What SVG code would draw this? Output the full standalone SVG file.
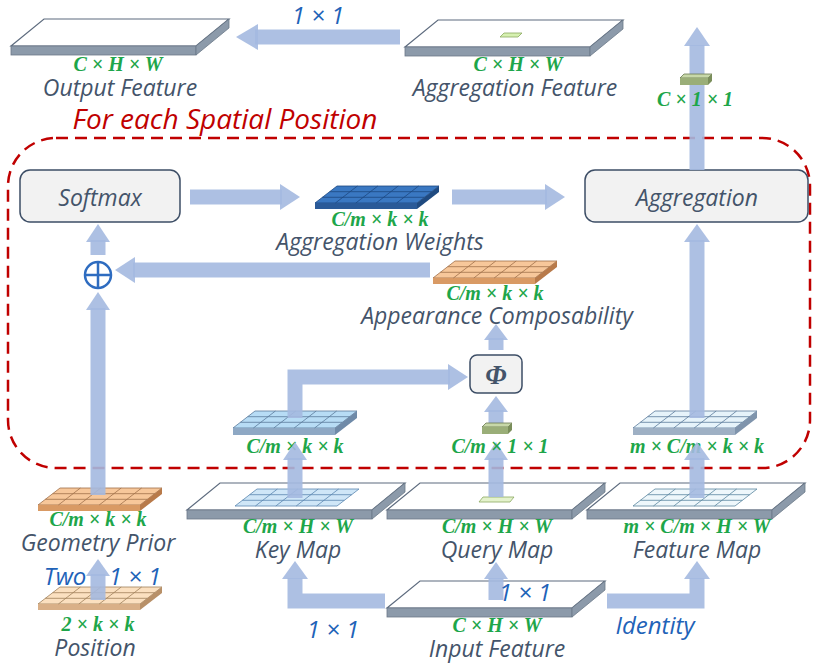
<svg xmlns="http://www.w3.org/2000/svg" width="825" height="665" viewBox="0 0 825 665">
<style>
.lbl{font-family:"Open Sans","Liberation Sans",sans-serif;font-style:italic;fill:#44546a;font-size:23px;text-anchor:middle}
.dim{font-family:"Liberation Serif",serif;font-style:italic;font-weight:bold;fill:#1ea64a;font-size:20px;text-anchor:middle}
.op{font-family:"Open Sans","Liberation Sans",sans-serif;font-style:italic;fill:#1f63b8;font-size:24px;text-anchor:middle}
.box{fill:#f2f2f2;stroke:#3d4e66;stroke-width:1.5}
.shaft{fill:none;stroke:#a4b9e0;stroke-width:15;opacity:.9}
.head{fill:#a4b9e0;opacity:.9}
.slabTop{fill:#fff;stroke:#5d6b7e;stroke-width:1.2}
.slabSide{fill:#8c9aaa;stroke:#6b7888;stroke-width:.8}
.g{stroke-width:.8;fill:none}
</style>
<defs>
<g id="slab">
<polygon class="slabTop" points="0,0 33,-27 218,-27 185,0"/>
<rect class="slabSide" x="0" y="0" width="185" height="9"/>
<polygon class="slabSide" points="185,0 218,-27 218,-18 185,9"/>
</g>
<g id="gridlines">
<path d="M20.4,0 L42.4,-17 M40.8,0 L62.8,-17 M61.2,0 L83.2,-17 M81.6,0 L103.6,-17 M7.3,-5.7 L109.3,-5.7 M14.7,-11.3 L116.7,-11.3"/>
</g>
</defs>

<rect x="8" y="138" width="802" height="330" rx="48" fill="none" stroke="#c00000" stroke-width="2.5" stroke-dasharray="12,7"/>
<text x="225" y="129" font-family="Open Sans,Liberation Sans,sans-serif" font-style="italic" font-size="28" fill="#c00000" text-anchor="middle">For each Spatial Position</text>

<g id="output-feature"><use href="#slab" x="11" y="46"/><text class="dim" x="118" y="71">C × H × W</text><text class="lbl" x="120" y="96">Output Feature</text></g>
<g id="aggregation-feature"><use href="#slab" x="405" y="47"/><polygon points="500,37 504,33 522,33 518,37" fill="#d6f0b0" stroke="#8aa860" stroke-width=".8"/><text class="dim" x="518" y="71">C × H × W</text><text class="lbl" x="515" y="96">Aggregation Feature</text></g>
<g id="key-map"><use href="#slab" x="187" y="510"/>
<g transform="translate(235,506)"><polygon points="0,0 22,-17 124,-17 102,0" fill="#cfe6f7" stroke="#5b86b0" stroke-width=".8"/><g class="g" stroke="#5b86b0"><use href="#gridlines"/></g></g>
<text class="dim" x="298" y="533">C/m × H × W</text><text class="lbl" x="298" y="558">Key Map</text></g>
<g id="query-map"><use href="#slab" x="387" y="510"/><polygon points="479,502 483,497 514,497 510,502" fill="#e4f2cc" stroke="#8aa860" stroke-width=".8"/><text class="dim" x="497" y="533">C/m × H × W</text><text class="lbl" x="497" y="558">Query Map</text></g>
<g id="feature-map"><use href="#slab" x="587" y="510"/>
<g transform="translate(633,506)"><polygon points="0,0 22,-17 124,-17 102,0" fill="#eef7fb" stroke="#5b86a0" stroke-width=".8"/><g class="g" stroke="#5b86a0"><use href="#gridlines"/></g></g>
<text class="dim" x="697" y="533">m × C/m × H × W</text><text class="lbl" x="697" y="558">Feature Map</text></g>
<g id="input-feature"><use href="#slab" x="387" y="608"/><text class="dim" x="497" y="632">C × H × W</text><text class="lbl" x="497" y="657">Input Feature</text></g>

<g id="geometry-prior" transform="translate(38,505)"><polygon points="0,0 22,-17 124,-17 102,0" fill="#f7c79a" stroke="#a0704a" stroke-width=".8"/><rect x="0" y="0" width="102" height="6" fill="#d99a64"/><polygon points="102,0 124,-17 124,-11 102,6" fill="#b87a4a"/><g class="g" stroke="#a0704a"><use href="#gridlines"/></g></g>
<text class="dim" x="98" y="526">C/m × k × k</text><text class="lbl" x="98" y="551">Geometry Prior</text>
<g id="position" transform="translate(38,604)"><polygon points="0,0 22,-17 124,-17 102,0" fill="#fbe0c0" stroke="#a0805a" stroke-width=".8"/><rect x="0" y="0" width="102" height="6" fill="#d9b088"/><polygon points="102,0 124,-17 124,-11 102,6" fill="#b89068"/><g class="g" stroke="#a0805a"><use href="#gridlines"/></g></g>
<text class="dim" x="98" y="631">2 × k × k</text><text class="lbl" x="95" y="656">Position</text>
<g id="key-tile" transform="translate(233,428)"><polygon points="0,0 22,-17 124,-17 102,0" fill="#b7dcf5" stroke="#5b7a9a" stroke-width=".8"/><rect x="0" y="0" width="102" height="7" fill="#8ea8c4"/><polygon points="102,0 124,-17 124,-10 102,7" fill="#6f8aa8"/><g class="g" stroke="#5b7a9a"><use href="#gridlines"/></g></g>
<text class="dim" x="295" y="453">C/m × k × k</text>
<g id="feature-tile" transform="translate(633,428)"><polygon points="0,0 22,-17 124,-17 102,0" fill="#e6f3fa" stroke="#5b7a9a" stroke-width=".8"/><rect x="0" y="0" width="102" height="7" fill="#9eb0c4"/><polygon points="102,0 124,-17 124,-10 102,7" fill="#7f94ac"/><g class="g" stroke="#5b7a9a"><use href="#gridlines"/></g></g>
<text class="dim" x="697" y="453">m × C/m × k × k</text>
<g id="aggregation-weights" transform="translate(315,203)"><polygon points="0,0 22,-17 124,-17 102,0" fill="#3a78c2" stroke="#1d4880" stroke-width=".8"/><rect x="0" y="0" width="102" height="6" fill="#2a5a98"/><polygon points="102,0 124,-17 124,-11 102,6" fill="#1f4a80"/><g class="g" stroke="#1d4880"><use href="#gridlines"/></g></g>
<text class="dim" x="380" y="226">C/m × k × k</text><text class="lbl" x="380" y="250">Aggregation Weights</text>
<g id="appearance" transform="translate(433,278)"><polygon points="0,0 22,-17 124,-17 102,0" fill="#f7c79a" stroke="#a0704a" stroke-width=".8"/><rect x="0" y="0" width="102" height="6" fill="#d99a64"/><polygon points="102,0 124,-17 124,-11 102,6" fill="#b87a4a"/><g class="g" stroke="#a0704a"><use href="#gridlines"/></g></g>
<text class="dim" x="495" y="300">C/m × k × k</text><text class="lbl" x="497" y="324">Appearance Composability</text>

<g id="softmax"><rect class="box" x="20" y="170" width="160" height="52" rx="10"/><text class="lbl" x="100" y="206" font-size="28">Softmax</text></g>
<g id="aggregation"><rect class="box" x="585" y="170" width="223" height="52" rx="10"/><text class="lbl" x="697" y="206" font-size="28">Aggregation</text></g>
<g id="phi"><rect class="box" x="470" y="355" width="52" height="38" rx="7"/><text x="496" y="384" font-family="Liberation Serif,serif" font-style="italic" font-weight="bold" font-size="27" fill="#44546a" text-anchor="middle">Φ</text></g>
<g id="oplus"><circle cx="98" cy="275" r="13" fill="#fff" stroke="#2e6cc0" stroke-width="2.5"/><path d="M85,275 H111 M98,262 V288" stroke="#2e6cc0" stroke-width="2.5"/></g>

<g id="connectors">
<path class="shaft" d="M400,37 H255"/><polygon class="head" points="258,24 236,37 258,50"/>
<path class="shaft" d="M697,170 V45"/><polygon class="head" points="684,46 697,27 710,46"/>
<path class="shaft" d="M190,197 H282"/><polygon class="head" points="280,184 300,197 280,210"/>
<path class="shaft" d="M452,197 H547"/><polygon class="head" points="545,184 565,197 545,210"/>
<path class="shaft" d="M98,255 V240"/><polygon class="head" points="86,242 98,224 110,242"/>
<path class="shaft" d="M430,270 H133"/><polygon class="head" points="135,257 115,270 135,283"/>
<path class="shaft" d="M98,495 V308"/><polygon class="head" points="86,310 98,292 110,310"/>
<path class="shaft" d="M496,350 V338"/><polygon class="head" points="484,340 496,324 508,340"/>
<path class="shaft" d="M496,425 V410"/><polygon class="head" points="484,412 496,396 508,412"/>
<path class="shaft" d="M295,418 V377 H450"/><polygon class="head" points="448,364 468,377 448,390"/>
<path class="shaft" d="M697,418 V240"/><polygon class="head" points="684,242 697,224 710,242"/>
<path class="shaft" d="M295,498 V458"/><polygon class="head" points="283,460 295,442 307,460"/>
<path class="shaft" d="M496,497 V458"/><polygon class="head" points="484,460 496,442 508,460"/>
<path class="shaft" d="M697,498 V458"/><polygon class="head" points="684,460 697,442 710,460"/>
<path class="shaft" d="M385,601 H295 V578"/><polygon class="head" points="282,579 295,561 308,579"/>
<path class="shaft" d="M496,600 V578"/><polygon class="head" points="484,579 496,562 508,579"/>
<path class="shaft" d="M607,601 H697 V578"/><polygon class="head" points="684,579 697,561 710,579"/>
<path class="shaft" d="M98,600 V574"/><polygon class="head" points="86,576 98,559 110,576"/>
</g>
<g id="small-cubes">
<polygon points="680,78 684,74 712,74 708,78" fill="#c7d8a8" stroke="#6a7a50" stroke-width=".8"/><rect x="680" y="78" width="28" height="7" fill="#9aae78"/><polygon points="708,78 712,74 712,81 708,85" fill="#7a8e5a"/>
<polygon points="482,427 486,423 512,423 508,427" fill="#c7d8a8" stroke="#6a7a50" stroke-width=".8"/><rect x="482" y="427" width="26" height="7" fill="#9aae78"/><polygon points="508,427 512,423 512,430 508,434" fill="#7a8e5a"/>
</g>
<text class="dim" x="695" y="106">C × 1 × 1</text>
<text class="dim" x="500" y="453">C/m × 1 × 1</text>

<text class="op" x="318" y="24">1 × 1</text>
<text class="op" x="65" y="585">Two</text>
<text class="op" x="135" y="585">1 × 1</text>
<text class="op" x="333" y="638">1 × 1</text>
<text class="op" x="525" y="601">1 × 1</text>
<text class="op" x="655" y="634">Identity</text>
</svg>
